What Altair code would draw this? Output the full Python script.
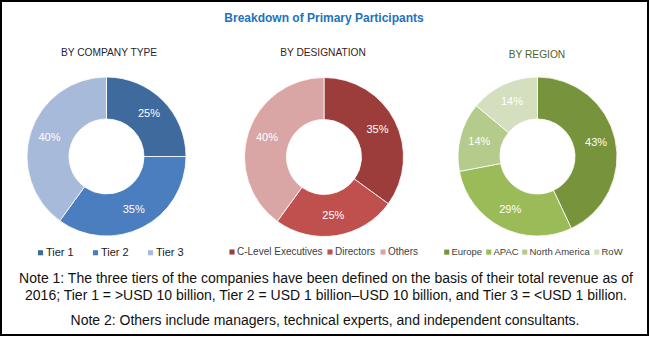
import altair as alt
import pandas as pd

# ---------------- data ----------------
company_labels = ["Tier 1", "Tier 2", "Tier 3"]
company_values = [25, 35, 40]
company_colors = ["#3F6A9E", "#4A7EBE", "#A8BAD9"]

designation_labels = ["C-Level Executives", "Directors", "Others"]
designation_values = [35, 25, 40]
designation_colors = ["#9D3D3B", "#C0504D", "#D9A6A5"]

region_labels = ["Europe", "APAC", "North America", "RoW"]
region_values = [43, 29, 14, 14]
region_colors = ["#77933C", "#9BBB59", "#B5CB8C", "#D3DFBE"]

title_text = ["Breakdown of Primary Participants"]
subtitles = ["BY COMPANY TYPE", "BY DESIGNATION", "BY REGION"]
notes = [
    "Note 1: The three tiers of the companies have been defined on the basis of their total revenue as of",
    "2016; Tier 1 = >USD 10 billion, Tier 2 = USD 1 billion\u2013USD 10 billion, and Tier 3 = <USD 1 billion.",
    "Note 2: Others include managers, technical experts, and independent consultants.",
]

W, H = 650, 337
BASE_FONT = "Liberation Sans, Arial, sans-serif"


def donut(labels, values, colors, cx, cy, legend_x, legend_y, col_pad,
          label_size, legend_size, legend_color):
    df = pd.DataFrame({
        "cat": labels,
        "val": values,
        "idx": list(range(len(labels))),
        "lbl": [f"{v}%" for v in values],
    })
    base = alt.Chart(df).encode(
        theta=alt.Theta("val:Q", stack=True),
        order=alt.Order("idx:Q", sort="ascending"),
    )
    arc = base.mark_arc(innerRadius=37.5, outerRadius=79.5, stroke="white",
                        strokeWidth=0.8).encode(
        x=alt.value(cx), y=alt.value(cy),
        color=alt.Color(
            "cat:N",
            scale=alt.Scale(domain=labels, range=colors),
            sort=labels,
            legend=alt.Legend(
                orient="none", legendX=legend_x, legendY=legend_y,
                direction="horizontal", columns=len(labels), title=None,
                symbolType="square", symbolSize=26, symbolStrokeWidth=0,
                labelFont=BASE_FONT, labelFontSize=legend_size,
                labelColor=legend_color, labelOffset=0,
                columnPadding=col_pad, padding=0,
            ),
        ),
    )
    txt = base.mark_text(radius=60, font=BASE_FONT, fontSize=label_size,
                         color="white").encode(
        x=alt.value(cx), y=alt.value(cy),
        text="lbl:N", detail="cat:N",
    )
    return alt.layer(arc, txt)


def text_layer(s, x, y, **kw):
    return alt.Chart(pd.DataFrame({"t": [s]})).mark_text(**kw).encode(
        text="t:N", x=alt.value(x), y=alt.value(y)
    )


frame = alt.Chart(pd.DataFrame({"a": [0]})).mark_rect(
    fill="white", stroke="black", strokeWidth=2
).encode(x=alt.value(1), x2=alt.value(648), y=alt.value(1), y2=alt.value(335))

d1 = donut(company_labels, company_values, company_colors, 106.5, 156.5,
           35, 247, 16, 11, 11, "#1A1A1A")
d2 = donut(designation_labels, designation_values, designation_colors, 324, 157,
           227, 247, 2, 11, 10, "#404040")
d3 = donut(region_labels, region_values, region_colors, 537.5, 156.5,
           442, 247, 1, 11, 9.5, "#404040")

texts = [
    text_layer(title_text[0], 324, 18, font=BASE_FONT, fontSize=12,
               fontWeight="bold", color="#2272BE", baseline="middle"),
    text_layer(subtitles[0], 109, 53, font=BASE_FONT, fontSize=10.2,
               color="#1F2533", baseline="middle"),
    text_layer(subtitles[1], 323, 53, font=BASE_FONT, fontSize=10.2,
               color="#3A1A1A", baseline="middle"),
    text_layer(subtitles[2], 537, 55, font=BASE_FONT, fontSize=10.2,
               color="#4F6228", baseline="middle"),
    text_layer(notes[0], 326, 283, font=BASE_FONT, fontSize=14,
               color="#111111", baseline="alphabetic"),
    text_layer(notes[1], 326, 299.5, font=BASE_FONT, fontSize=14,
               color="#111111", baseline="alphabetic"),
    text_layer(notes[2], 325, 325, font=BASE_FONT, fontSize=14,
               color="#111111", baseline="alphabetic"),
]

chart = alt.layer(frame, d1, d2, d3, *texts).resolve_scale(
    color="independent", theta="independent"
).properties(
    width=W, height=H, padding=0,
    autosize=alt.AutoSizeParams(type="none"),
    background="white",
).configure_view(stroke=None)

chart.save("out.html", embed_options={"renderer": "svg", "actions": False})
